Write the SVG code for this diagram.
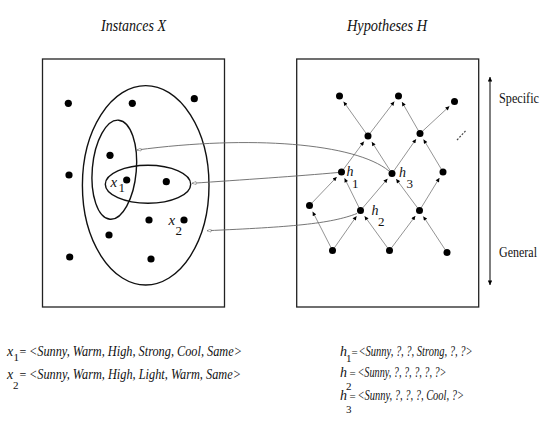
<svg xmlns="http://www.w3.org/2000/svg" width="546" height="425" viewBox="0 0 546 425">
<style>
.box{fill:none;stroke:#222;stroke-width:1.3}
.ell{fill:none;stroke:#111;stroke-width:1.4}
.dot{fill:#000}
.edge{stroke:#888;stroke-width:0.9;fill:none;marker-end:url(#ah)}
.link{stroke:#666;stroke-width:0.9;fill:none;marker-end:url(#oh)}
.it{font-family:"Liberation Serif","Times New Roman",serif;font-style:italic;fill:#111}
.rm{font-family:"Liberation Serif","Times New Roman",serif;fill:#111}
</style>
<defs>
<marker id="ah" viewBox="0 0 10 10" refX="10" refY="5" markerWidth="5.5" markerHeight="4" markerUnits="userSpaceOnUse" orient="auto">
<path d="M0,0 L10,5 L0,10 z" fill="#000"/>
</marker>
<marker id="oh" viewBox="0 0 10 10" refX="10" refY="5" markerWidth="6" markerHeight="4" markerUnits="userSpaceOnUse" orient="auto">
<path d="M0,1 L10,5 L0,9 z" fill="#fff" stroke="#666" stroke-width="1.2"/>
</marker>
<marker id="va" viewBox="0 0 10 10" refX="10" refY="5" markerWidth="10" markerHeight="4.5" markerUnits="userSpaceOnUse" orient="auto">
<path d="M0,0 L10,5 L0,10 z" fill="#000"/>
</marker>
</defs>

<text class="it" x="101" y="30.5" font-size="17" textLength="65" lengthAdjust="spacingAndGlyphs">Instances X</text>
<text class="it" x="347" y="30.5" font-size="17" textLength="80" lengthAdjust="spacingAndGlyphs">Hypotheses H</text>

<g id="instances">
<rect class="box" x="42.5" y="59" width="182" height="248"/>
<ellipse class="ell" cx="145.7" cy="185.3" rx="63.3" ry="99.7" stroke-width="1.3"/>
<ellipse class="ell" cx="114.3" cy="169.7" rx="22" ry="49.7" transform="rotate(5 114.3 169.7)"/>
<ellipse class="ell" cx="148" cy="184.3" rx="42.7" ry="19"/>
<g id="i1"><circle class="dot" cx="68.3" cy="103.3" r="3.6"/></g>
<g id="i2"><circle class="dot" cx="132.3" cy="103.3" r="3.6"/></g>
<g id="i3"><circle class="dot" cx="194.3" cy="98.7" r="3.6"/></g>
<g id="i4"><circle class="dot" cx="110" cy="155.3" r="3.6"/></g>
<g id="i5"><circle class="dot" cx="69" cy="175" r="3.6"/></g>
<g id="x1"><circle class="dot" cx="126.7" cy="180" r="3.6"/>
<text class="it" x="110.5" y="187" font-size="15">x</text><text class="rm" x="118.5" y="192" font-size="13">1</text></g>
<g id="i7"><circle class="dot" cx="166.3" cy="181.7" r="3.6"/></g>
<g id="i8"><circle class="dot" cx="149" cy="220" r="3.6"/></g>
<g id="x2"><circle class="dot" cx="184" cy="220" r="3.6"/>
<text class="it" x="168.5" y="225" font-size="15">x</text><text class="rm" x="175.5" y="235" font-size="13">2</text></g>
<g id="i10"><circle class="dot" cx="109" cy="235" r="3.6"/></g>
<g id="i11"><circle class="dot" cx="69.7" cy="257" r="3.6"/></g>
<g id="i12"><circle class="dot" cx="151" cy="259" r="3.6"/></g>
</g>

<g id="hypotheses">
<rect class="box" x="296.7" y="59" width="182" height="248"/>
</g>

<g id="connectors">
<line class="edge" x1="368" y1="136" x2="343.6" y2="101.7"/>
<line class="edge" x1="368" y1="136" x2="394.3" y2="101.6"/>
<line class="edge" x1="420" y1="133.5" x2="402.0" y2="102.1"/>
<line class="edge" x1="420" y1="133.5" x2="449.4" y2="106.3"/>
<line class="edge" x1="341.5" y1="172" x2="363.9" y2="141.6"/>
<line class="edge" x1="392" y1="173.5" x2="371.8" y2="141.9"/>
<line class="edge" x1="392" y1="173.5" x2="416.0" y2="139.2"/>
<line class="edge" x1="443" y1="172" x2="423.6" y2="139.5"/>
<line class="edge" x1="309.5" y1="205.5" x2="336.7" y2="177.1"/>
<line class="edge" x1="360.5" y1="210.5" x2="344.6" y2="178.3"/>
<line class="edge" x1="360.5" y1="210.5" x2="387.5" y2="178.8"/>
<line class="edge" x1="419.5" y1="210.5" x2="396.2" y2="179.1"/>
<line class="edge" x1="419.5" y1="210.5" x2="439.4" y2="178.0"/>
<line class="edge" x1="332.5" y1="250.5" x2="312.7" y2="211.7"/>
<line class="edge" x1="332.5" y1="250.5" x2="356.5" y2="216.2"/>
<line class="edge" x1="389.5" y1="250.5" x2="364.6" y2="216.2"/>
<line class="edge" x1="389.5" y1="250.5" x2="415.3" y2="216.1"/>
<line class="edge" x1="447" y1="252.5" x2="423.3" y2="216.4"/>
<path class="link" d="M389,171 C355,143 250,135 137,150"/>
<path class="link" d="M338,172.5 C300,176 240,180 192,183.3"/>
<path class="link" d="M357,213.5 C330,224 290,227 207,230.7"/>
<line x1="457" y1="140" x2="465.5" y2="131" stroke="#444" stroke-width="1.2" stroke-dasharray="2,1.5"/>
<line x1="490" y1="181" x2="490" y2="77" stroke="#000" stroke-width="1" marker-end="url(#va)"/>
<line x1="490" y1="181" x2="490" y2="285" stroke="#000" stroke-width="1" marker-end="url(#va)"/>
</g>

<g id="n-tl"><circle class="dot" cx="339.5" cy="96" r="3.5"/></g>
<g id="n-tm"><circle class="dot" cx="398.5" cy="96" r="3.5"/></g>
<g id="n-tr"><circle class="dot" cx="454.5" cy="101.5" r="3.5"/></g>
<g id="n-2a"><circle class="dot" cx="368" cy="136" r="3.5"/></g>
<g id="n-2b"><circle class="dot" cx="420" cy="133.5" r="3.5"/></g>
<g id="h1"><circle class="dot" cx="341.5" cy="172" r="3.5"/>
<text class="it" x="346.5" y="176" font-size="14">h</text><text class="rm" x="352" y="188" font-size="13">1</text></g>
<g id="h3"><circle class="dot" cx="392" cy="173.5" r="3.5"/>
<text class="it" x="399" y="177" font-size="14">h</text><text class="rm" x="406.5" y="187.5" font-size="13">3</text></g>
<g id="n-3c"><circle class="dot" cx="443" cy="172" r="3.5"/></g>
<g id="n-4a"><circle class="dot" cx="309.5" cy="205.5" r="3.5"/></g>
<g id="h2"><circle class="dot" cx="360.5" cy="210.5" r="3.5"/>
<text class="it" x="371.5" y="215" font-size="14">h</text><text class="rm" x="378" y="225.5" font-size="13">2</text></g>
<g id="n-4c"><circle class="dot" cx="419.5" cy="210.5" r="3.5"/></g>
<g id="n-b1"><circle class="dot" cx="332.5" cy="250.5" r="3.5"/></g>
<g id="n-b2"><circle class="dot" cx="389.5" cy="250.5" r="3.5"/></g>
<g id="n-b3"><circle class="dot" cx="447" cy="252.5" r="3.5"/></g>

<text class="rm" x="499" y="103" font-size="14" textLength="40" lengthAdjust="spacingAndGlyphs">Specific</text>
<text class="rm" x="499" y="257" font-size="14" textLength="38" lengthAdjust="spacingAndGlyphs">General</text>

<g id="legend-x">
<text class="it" x="7" y="356" font-size="14">x</text><text class="rm" x="13.5" y="361" font-size="11">1</text><text class="rm" x="19.5" y="356" font-size="12">=</text>
<text class="it" x="29" y="356" font-size="14" textLength="213" lengthAdjust="spacingAndGlyphs">&lt;Sunny, Warm, High, Strong, Cool, Same&gt;</text>
<text class="it" x="7" y="379" font-size="14">x</text><text class="rm" x="13" y="389" font-size="11">2</text><text class="rm" x="19.5" y="379" font-size="12">=</text>
<text class="it" x="29" y="379" font-size="14" textLength="212" lengthAdjust="spacingAndGlyphs">&lt;Sunny, Warm, High, Light, Warm, Same&gt;</text>
</g>
<g id="legend-h">
<text class="it" x="340" y="356" font-size="14">h</text><text class="rm" x="346" y="362" font-size="11">1</text><text class="rm" x="351.5" y="356" font-size="11">=</text>
<text class="it" x="358.5" y="356" font-size="14" textLength="114" lengthAdjust="spacingAndGlyphs">&lt;Sunny, ?, ?, Strong, ?, ?&gt;</text>
<text class="it" x="340" y="377" font-size="14">h</text><text class="rm" x="346" y="389.5" font-size="11">2</text><text class="rm" x="349.5" y="377" font-size="11">=</text>
<text class="it" x="357.5" y="377" font-size="14" textLength="89" lengthAdjust="spacingAndGlyphs">&lt;Sunny, ?, ?, ?, ?, ?&gt;</text>
<text class="it" x="340" y="400" font-size="14">h</text><text class="rm" x="346" y="412.5" font-size="11">3</text><text class="rm" x="349.5" y="400" font-size="11">=</text>
<text class="it" x="357.5" y="400" font-size="14" textLength="106.5" lengthAdjust="spacingAndGlyphs">&lt;Sunny, ?, ?, ?, Cool, ?&gt;</text>
</g>
</svg>
